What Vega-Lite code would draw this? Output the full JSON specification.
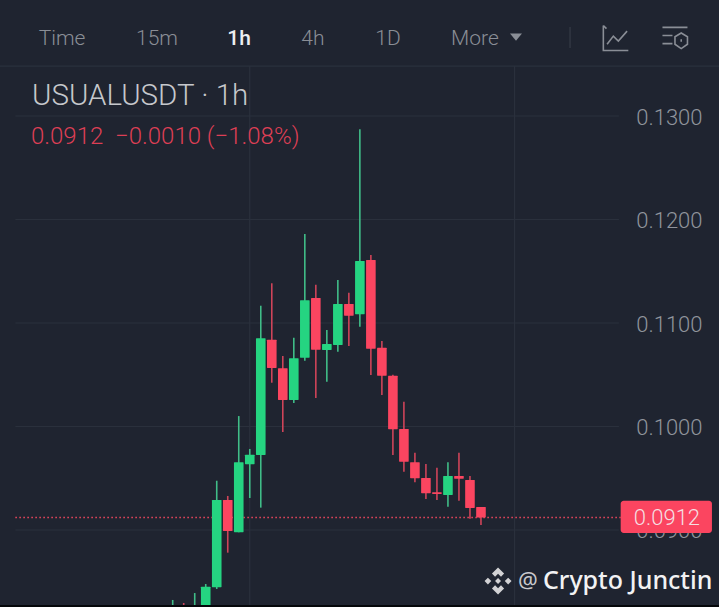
{
  "$schema": "https://vega.github.io/schema/vega-lite/v6.json",
  "width": 719,
  "height": 607,
  "padding": 0,
  "autosize": "none",
  "background": "#1f2430",
  "datasets": {
    "candles": [
      {"t": 0, "open": 0.0815, "high": 0.08324, "low": 0.0815, "close": 0.0824},
      {"t": 1, "open": 0.0826, "high": 0.08295, "low": 0.0815, "close": 0.0815},
      {"t": 2, "open": 0.0815, "high": 0.08391, "low": 0.0815, "close": 0.0825},
      {"t": 3, "open": 0.082, "high": 0.08478, "low": 0.0815, "close": 0.08452},
      {"t": 4, "open": 0.08446, "high": 0.09476, "low": 0.0843, "close": 0.0929},
      {"t": 5, "open": 0.0929, "high": 0.09329, "low": 0.08781, "close": 0.0899},
      {"t": 6, "open": 0.08978, "high": 0.10101, "low": 0.08978, "close": 0.09654},
      {"t": 7, "open": 0.09635, "high": 0.09783, "low": 0.09309, "close": 0.09728},
      {"t": 8, "open": 0.09725, "high": 0.11167, "low": 0.09216, "close": 0.10852},
      {"t": 9, "open": 0.10839, "high": 0.11384, "low": 0.10423, "close": 0.10565},
      {"t": 10, "open": 0.10562, "high": 0.10681, "low": 0.09947, "close": 0.10256},
      {"t": 11, "open": 0.10256, "high": 0.10858, "low": 0.10227, "close": 0.10659},
      {"t": 12, "open": 0.10665, "high": 0.1186, "low": 0.10636, "close": 0.11219},
      {"t": 13, "open": 0.11242, "high": 0.1137, "low": 0.10275, "close": 0.10742},
      {"t": 14, "open": 0.10739, "high": 0.10932, "low": 0.10433, "close": 0.10797},
      {"t": 15, "open": 0.10787, "high": 0.11415, "low": 0.10723, "close": 0.11184},
      {"t": 16, "open": 0.11184, "high": 0.11293, "low": 0.10778, "close": 0.1107},
      {"t": 17, "open": 0.11084, "high": 0.12871, "low": 0.10964, "close": 0.11599},
      {"t": 18, "open": 0.11609, "high": 0.11657, "low": 0.10498, "close": 0.10752},
      {"t": 19, "open": 0.10761, "high": 0.10826, "low": 0.10304, "close": 0.10491},
      {"t": 20, "open": 0.10491, "high": 0.105, "low": 0.09725, "close": 0.09973},
      {"t": 21, "open": 0.09976, "high": 0.1024, "low": 0.09563, "close": 0.0966},
      {"t": 22, "open": 0.09654, "high": 0.09747, "low": 0.09461, "close": 0.095},
      {"t": 23, "open": 0.09502, "high": 0.09638, "low": 0.093, "close": 0.09355},
      {"t": 24, "open": 0.09364, "high": 0.09602, "low": 0.0929, "close": 0.09348},
      {"t": 25, "open": 0.09338, "high": 0.09654, "low": 0.09225, "close": 0.09522},
      {"t": 26, "open": 0.09522, "high": 0.09747, "low": 0.09283, "close": 0.09496},
      {"t": 27, "open": 0.09483, "high": 0.09522, "low": 0.09109, "close": 0.09213},
      {"t": 28, "open": 0.09222, "high": 0.09222, "low": 0.09048, "close": 0.0912}
    ]
  },
  "layer": [
    {
      "data": {"values": [{"price": 0.09}, {"price": 0.1}, {"price": 0.11}, {"price": 0.12}, {"price": 0.13}]},
      "mark": {"type": "rule", "color": "#2a303c", "strokeWidth": 1.2},
      "encoding": {
        "x": {"datum": -14.29, "type": "quantitative", "title": null, "scale": {"domain": [-15.686, 49.62], "nice": false, "zero": false, "padding": 0}},
        "x2": {"datum": 40.53},
        "y": {
          "field": "price",
          "type": "quantitative",
          "title": null,
          "scale": {"domain": [0.08256, 0.14121], "nice": false, "zero": false},
          "axis": {
            "orient": "right",
            "values": [0.09, 0.1, 0.11, 0.12, 0.13],
            "format": ".4f",
            "grid": false,
            "domain": false,
            "ticks": false,
            "title": null,
            "labelAlign": "right",
            "labelPadding": -17,
            "labelOffset": 1,
            "labelFontSize": 22,
            "labelFontWeight": 300,
            "labelColor": "#90949c",
            "labelFont": "Roboto"
          }
        }
      }
    },
    {
      "data": {"values": [{"t": 7}, {"t": 31.05}]},
      "mark": {"type": "rule", "color": "#2a303c", "strokeWidth": 1.2},
      "encoding": {
        "x": {"field": "t", "type": "quantitative"},
        "y": {"datum": 0.13483, "type": "quantitative"},
        "y2": {"datum": 0.08256}
      }
    },
    {
      "data": {"values": [{"line": "header"}]},
      "mark": {"type": "rule", "color": "#2a303c", "strokeWidth": 1.2},
      "encoding": {
        "x": {"datum": -15.686, "type": "quantitative"},
        "x2": {"datum": 49.62},
        "y": {"datum": 0.13483, "type": "quantitative"}
      }
    },
    {
      "data": {"values": [{"last": 0.0912}]},
      "mark": {"type": "rule", "color": "#f0485f", "strokeWidth": 1.5, "strokeDash": [1.5, 2.5]},
      "encoding": {
        "x": {"datum": -14.29, "type": "quantitative"},
        "x2": {"datum": 40.69},
        "y": {"field": "last", "type": "quantitative"}
      }
    },
    {
      "data": {"name": "candles"},
      "mark": {"type": "rule", "strokeWidth": 1.6, "clip": true},
      "encoding": {
        "x": {"field": "t", "type": "quantitative"},
        "y": {"field": "low", "type": "quantitative"},
        "y2": {"field": "high"},
        "color": {"condition": {"test": "datum.open < datum.close", "value": "#40bd88"}, "value": "#cf4459"}
      }
    },
    {
      "data": {"name": "candles"},
      "mark": {"type": "bar", "size": 9.6, "clip": true, "cornerRadius": 0.5},
      "encoding": {
        "x": {"field": "t", "type": "quantitative"},
        "y": {"field": "open", "type": "quantitative"},
        "y2": {"field": "close"},
        "color": {"condition": {"test": "datum.open < datum.close", "value": "#25d481"}, "value": "#fb4560"}
      }
    },
    {
      "data": {"values": [{"tag": "0.0912"}]},
      "mark": {"type": "rect", "color": "#fb4560", "cornerRadius": 3},
      "encoding": {
        "x": {"datum": 40.69, "type": "quantitative"},
        "x2": {"datum": 48.98},
        "y": {"datum": 0.09283, "type": "quantitative"},
        "y2": {"datum": 0.08971}
      }
    },
    {
      "data": {"values": [{"tag": "0.0912"}]},
      "mark": {"type": "text", "font": "Roboto", "fontSize": 22, "fontWeight": 300, "color": "#f5dfe2", "align": "center", "baseline": "middle"},
      "encoding": {
        "x": {"datum": 44.89, "type": "quantitative"},
        "y": {"datum": 0.09118, "type": "quantitative"},
        "text": {"field": "tag"}
      }
    },
    {
      "data": {"values": [{"band": "bottom"}]},
      "mark": {"type": "rect", "color": "#05070a"},
      "encoding": {
        "x": {"datum": -15.686, "type": "quantitative"},
        "x2": {"datum": 49.62},
        "y": {"datum": 0.08275, "type": "quantitative"},
        "y2": {"datum": 0.08256}
      }
    },
    {
      "data": {"values": [{"label": "Time"}]},
      "mark": {"type": "text", "font": "Roboto", "fontSize": 21, "fontWeight": 300, "color": "#8a8e96", "align": "center", "baseline": "middle"},
      "encoding": {"x": {"datum": -10.05, "type": "quantitative"}, "y": {"datum": 0.13745, "type": "quantitative"}, "text": {"field": "label"}}
    },
    {
      "data": {"values": [{"label": "15m"}]},
      "mark": {"type": "text", "font": "Roboto", "fontSize": 21, "fontWeight": 300, "color": "#8a8e96", "align": "center", "baseline": "middle"},
      "encoding": {"x": {"datum": -1.426, "type": "quantitative"}, "y": {"datum": 0.13745, "type": "quantitative"}, "text": {"field": "label"}}
    },
    {
      "data": {"values": [{"label": "1h"}]},
      "mark": {"type": "text", "font": "Roboto", "fontSize": 21, "fontWeight": 500, "color": "#eceef0", "align": "center", "baseline": "middle"},
      "encoding": {"x": {"datum": 6.022, "type": "quantitative"}, "y": {"datum": 0.13745, "type": "quantitative"}, "text": {"field": "label"}}
    },
    {
      "data": {"values": [{"label": "4h"}]},
      "mark": {"type": "text", "font": "Roboto", "fontSize": 21, "fontWeight": 300, "color": "#8a8e96", "align": "center", "baseline": "middle"},
      "encoding": {"x": {"datum": 12.74, "type": "quantitative"}, "y": {"datum": 0.13745, "type": "quantitative"}, "text": {"field": "label"}}
    },
    {
      "data": {"values": [{"label": "1D"}]},
      "mark": {"type": "text", "font": "Roboto", "fontSize": 21, "fontWeight": 300, "color": "#8a8e96", "align": "center", "baseline": "middle"},
      "encoding": {"x": {"datum": 19.55, "type": "quantitative"}, "y": {"datum": 0.13745, "type": "quantitative"}, "text": {"field": "label"}}
    },
    {
      "data": {"values": [{"label": "More"}]},
      "mark": {"type": "text", "font": "Roboto", "fontSize": 21, "fontWeight": 300, "color": "#8a8e96", "align": "center", "baseline": "middle"},
      "encoding": {"x": {"datum": 27.45, "type": "quantitative"}, "y": {"datum": 0.13745, "type": "quantitative"}, "text": {"field": "label"}}
    },
    {
      "data": {"values": [{"icon": "caret"}]},
      "mark": {"type": "point", "shape": "M-1,-0.6 H1 L0,0.6 Z", "size": 144, "filled": true, "opacity": 1, "color": "#8a8e96"},
      "encoding": {"x": {"datum": 31.18, "type": "quantitative"}, "y": {"datum": 0.13763, "type": "quantitative"}}
    },
    {
      "data": {"values": [{"icon": "separator"}]},
      "mark": {"type": "rule", "color": "#3a404c", "strokeWidth": 1},
      "encoding": {
        "x": {"datum": 36.09, "type": "quantitative"},
        "y": {"datum": 0.1386, "type": "quantitative"},
        "y2": {"datum": 0.13657}
      }
    },
    {
      "data": {"values": [{"icon": "indicators"}]},
      "mark": {"type": "point", "shape": "M-1,-1 V1 H1 M-0.7,0.5 L-0.2,-0.15 L0.2,0.25 L0.9,-0.55 M-1,-1 L-0.75,-0.75", "size": 625, "filled": false, "opacity": 1, "strokeWidth": 1.6, "color": "#8a8e96"},
      "encoding": {"x": {"datum": 40.25, "type": "quantitative"}, "y": {"datum": 0.13754, "type": "quantitative"}}
    },
    {
      "data": {"values": [{"icon": "settings"}]},
      "mark": {"type": "point", "shape": "M-1,-0.85 H1 M-1,-0.2 H-0.2 M-1,0.45 H-0.2 M0.5,-0.4 L1,-0.1 V0.5 L0.5,0.85 L0,0.5 V-0.1 Z M0.5,0.1 V0.3", "size": 625, "filled": false, "opacity": 1, "strokeWidth": 1.6, "color": "#8a8e96"},
      "encoding": {"x": {"datum": 45.62, "type": "quantitative"}, "y": {"datum": 0.13754, "type": "quantitative"}}
    },
    {
      "data": {"values": [{"label": "USUALUSDT · 1h"}]},
      "mark": {"type": "text", "font": "Roboto", "fontSize": 29.5, "fontWeight": 300, "color": "#c6c8cc", "align": "left", "baseline": "middle"},
      "encoding": {"x": {"datum": -12.78, "type": "quantitative"}, "y": {"datum": 0.13193, "type": "quantitative"}, "text": {"field": "label"}}
    },
    {
      "data": {"values": [{"label": "0.0912"}]},
      "mark": {"type": "text", "font": "Roboto", "fontSize": 24, "fontWeight": 300, "color": "#dd3f55", "align": "left", "baseline": "middle"},
      "encoding": {"x": {"datum": -12.87, "type": "quantitative"}, "y": {"datum": 0.12797, "type": "quantitative"}, "text": {"field": "label"}}
    },
    {
      "data": {"values": [{"label": "−0.0010 (−1.08%)"}]},
      "mark": {"type": "text", "font": "Roboto", "fontSize": 24, "fontWeight": 300, "color": "#dd3f55", "align": "left", "baseline": "middle"},
      "encoding": {"x": {"datum": -5.24, "type": "quantitative"}, "y": {"datum": 0.12797, "type": "quantitative"}, "text": {"field": "label"}}
    },
    {
      "data": {"values": [{"icon": "logo"}]},
      "mark": {"type": "point", "shape": "M0,-1 L0.45,-0.55 L0.22,-0.32 L0,-0.54 L-0.22,-0.32 L-0.45,-0.55 Z M0,1 L0.45,0.55 L0.22,0.32 L0,0.54 L-0.22,0.32 L-0.45,0.55 Z M-1,0 L-0.75,-0.25 L-0.5,0 L-0.75,0.25 Z M1,0 L0.75,-0.25 L0.5,0 L0.75,0.25 Z M0,-0.22 L0.22,0 L0,0.22 L-0.22,0 Z", "size": 729, "filled": true, "opacity": 1, "color": "#d2d2d4"},
      "encoding": {"x": {"datum": 29.55, "type": "quantitative"}, "y": {"datum": 0.08507, "type": "quantitative"}}
    },
    {
      "data": {"values": [{"label": "@"}]},
      "mark": {"type": "text", "font": "Noto Sans", "fontSize": 22, "color": "#c9c9cc", "align": "center", "baseline": "middle"},
      "encoding": {"x": {"datum": 32.27, "type": "quantitative"}, "y": {"datum": 0.08507, "type": "quantitative"}, "text": {"field": "label"}}
    },
    {
      "data": {"values": [{"label": "Crypto Junctin"}]},
      "mark": {"type": "text", "font": "Noto Sans", "fontSize": 25, "fontWeight": 500, "color": "#f2f2f3", "align": "left", "baseline": "middle"},
      "encoding": {"x": {"datum": 33.63, "type": "quantitative"}, "y": {"datum": 0.08507, "type": "quantitative"}, "text": {"field": "label"}}
    }
  ],
  "config": {
    "font": "Roboto",
    "view": {"stroke": null},
    "axisX": {"disable": true},
    "axis": {"title": null}
  }
}
